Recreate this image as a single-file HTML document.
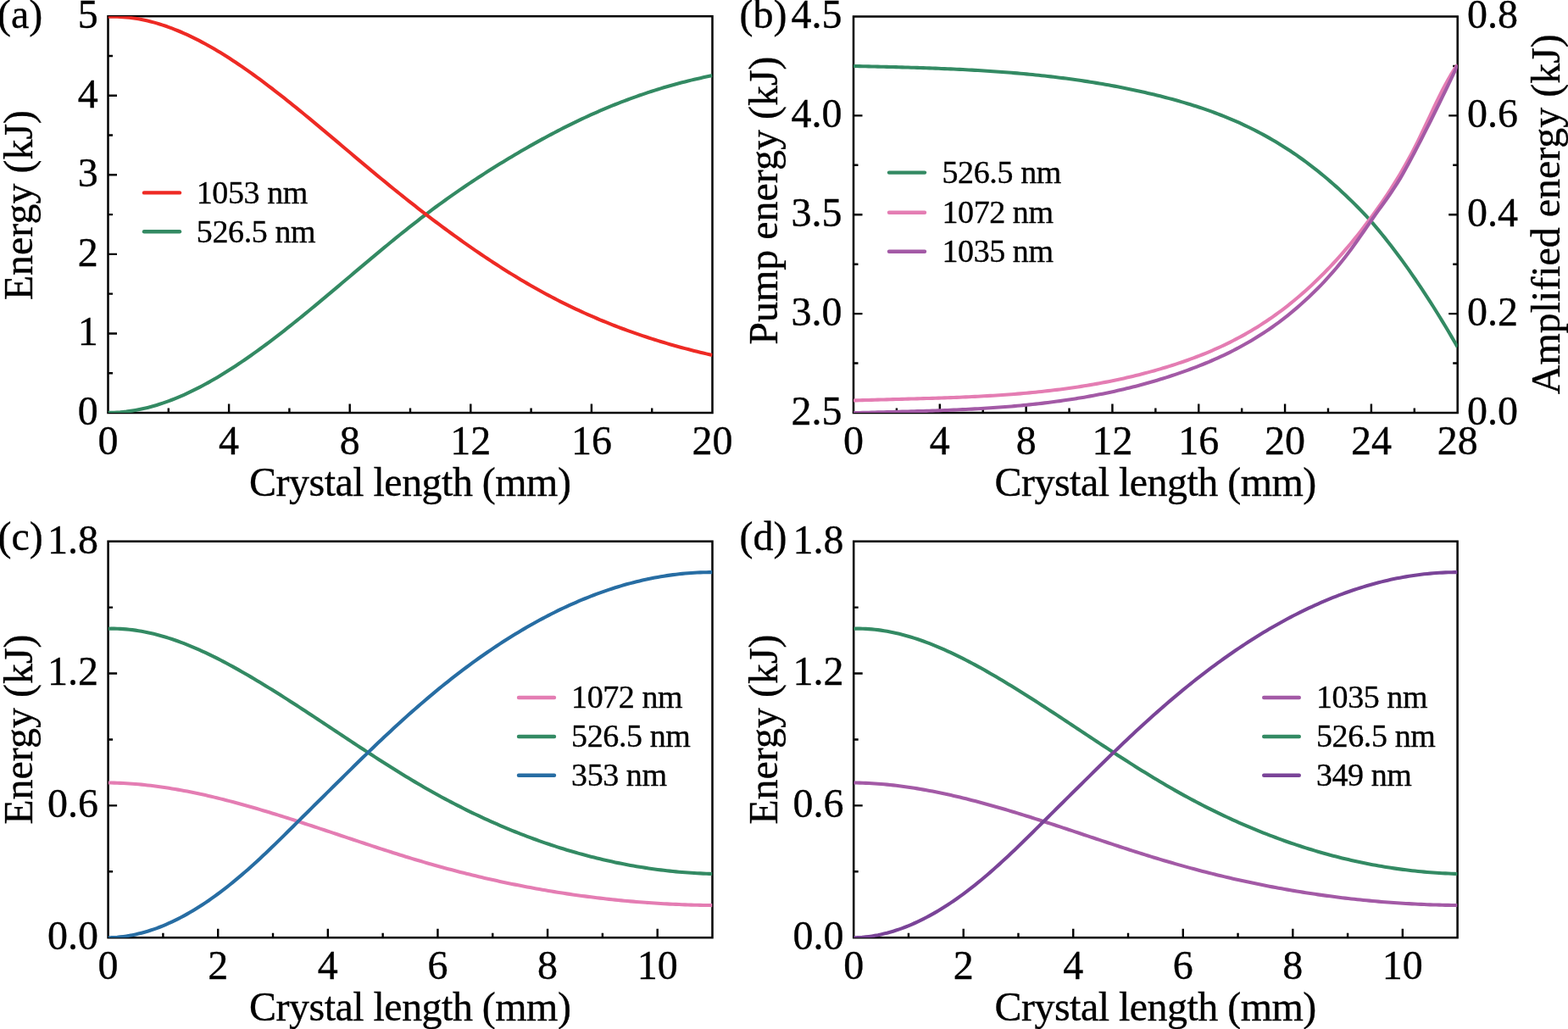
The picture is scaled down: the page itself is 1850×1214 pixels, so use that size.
<!DOCTYPE html>
<html><head><meta charset="utf-8"><title>Crystal length energy plots</title>
<style>html,body{margin:0;padding:0;background:#fff;overflow:hidden}svg{display:block}text{font-family:"Liberation Serif","Times New Roman",serif;fill:#000;stroke:#000;stroke-width:0.35px}</style>
</head><body>
<svg width="1850" height="1214" viewBox="0 0 1850 1214">
<rect width="1850" height="1214" fill="#fff"/>
<path d="M270.10,487.00V476.50 M412.70,487.00V476.50 M555.30,487.00V476.50 M697.90,487.00V476.50 M198.80,487.00V481.50 M341.40,487.00V481.50 M484.00,487.00V481.50 M626.60,487.00V481.50 M769.20,487.00V481.50 M127.50,393.44H138.00 M127.50,299.88H138.00 M127.50,206.32H138.00 M127.50,112.76H138.00 M127.50,440.22H133.00 M127.50,346.66H133.00 M127.50,253.10H133.00 M127.50,159.54H133.00 M127.50,65.98H133.00" stroke="#000" stroke-width="2.4" fill="none"/>
<text x="127.50" y="535.50" font-size="48" text-anchor="middle">0</text>
<text x="270.10" y="535.50" font-size="48" text-anchor="middle">4</text>
<text x="412.70" y="535.50" font-size="48" text-anchor="middle">8</text>
<text x="555.30" y="535.50" font-size="48" text-anchor="middle">12</text>
<text x="697.90" y="535.50" font-size="48" text-anchor="middle">16</text>
<text x="840.50" y="535.50" font-size="48" text-anchor="middle">20</text>
<text x="115.80" y="500.90" font-size="48" text-anchor="end">0</text>
<text x="115.80" y="407.34" font-size="48" text-anchor="end">1</text>
<text x="115.80" y="313.78" font-size="48" text-anchor="end">2</text>
<text x="115.80" y="220.22" font-size="48" text-anchor="end">3</text>
<text x="115.80" y="126.66" font-size="48" text-anchor="end">4</text>
<text x="115.80" y="33.10" font-size="48" text-anchor="end">5</text>
<rect x="127.50" y="19.20" width="713.00" height="467.80" fill="none" stroke="#000" stroke-width="2.5"/>
<clipPath id="c1"><rect x="127.50" y="19.20" width="713.00" height="467.80"/></clipPath>
<path d="M127.50,486.85 L131.08,486.83 L134.67,486.73 L138.25,486.55 L141.83,486.31 L145.41,485.99 L149.00,485.60 L152.58,485.13 L156.16,484.60 L159.75,484.00 L163.33,483.33 L166.91,482.59 L170.49,481.79 L174.08,480.92 L177.66,479.98 L181.24,478.99 L184.83,477.93 L188.41,476.81 L191.99,475.63 L195.58,474.39 L199.16,473.09 L202.74,471.73 L206.32,470.32 L209.91,468.85 L213.49,467.33 L217.07,465.76 L220.66,464.13 L224.24,462.45 L227.82,460.72 L231.40,458.94 L234.99,457.11 L238.57,455.23 L242.15,453.31 L245.74,451.34 L249.32,449.32 L252.90,447.26 L256.48,445.16 L260.07,443.02 L263.65,440.83 L267.23,438.61 L270.82,436.35 L274.40,434.05 L277.98,431.71 L281.57,429.33 L285.15,426.92 L288.73,424.48 L292.31,422.00 L295.90,419.49 L299.48,416.95 L303.06,414.38 L306.65,411.78 L310.23,409.15 L313.81,406.50 L317.39,403.81 L320.98,401.11 L324.56,398.38 L328.14,395.62 L331.73,392.84 L335.31,390.04 L338.89,387.22 L342.47,384.38 L346.06,381.52 L349.64,378.65 L353.22,375.75 L356.81,372.85 L360.39,369.92 L363.97,366.99 L367.56,364.04 L371.14,361.07 L374.72,358.10 L378.30,355.12 L381.89,352.13 L385.47,349.13 L389.05,346.12 L392.64,343.11 L396.22,340.09 L399.80,337.07 L403.38,334.05 L406.97,331.02 L410.55,327.99 L414.13,324.96 L417.72,321.94 L421.30,318.91 L424.88,315.89 L428.46,312.87 L432.05,309.85 L435.63,306.84 L439.21,303.84 L442.80,300.85 L446.38,297.86 L449.96,294.88 L453.55,291.92 L457.13,288.96 L460.71,286.02 L464.29,283.09 L467.88,280.18 L471.46,277.28 L475.04,274.40 L478.63,271.53 L482.21,268.68 L485.79,265.85 L489.37,263.05 L492.96,260.26 L496.54,257.49 L500.12,254.75 L503.71,252.04 L507.29,249.34 L510.87,246.67 L514.45,244.02 L518.04,241.40 L521.62,238.80 L525.20,236.22 L528.79,233.66 L532.37,231.13 L535.95,228.62 L539.54,226.12 L543.12,223.65 L546.70,221.20 L550.28,218.78 L553.87,216.37 L557.45,213.98 L561.03,211.61 L564.62,209.26 L568.20,206.93 L571.78,204.62 L575.36,202.33 L578.95,200.06 L582.53,197.80 L586.11,195.57 L589.70,193.35 L593.28,191.15 L596.86,188.97 L600.44,186.80 L604.03,184.65 L607.61,182.52 L611.19,180.40 L614.78,178.31 L618.36,176.23 L621.94,174.16 L625.53,172.12 L629.11,170.10 L632.69,168.09 L636.27,166.10 L639.86,164.14 L643.44,162.19 L647.02,160.26 L650.61,158.35 L654.19,156.46 L657.77,154.59 L661.35,152.75 L664.94,150.92 L668.52,149.11 L672.10,147.33 L675.69,145.57 L679.27,143.83 L682.85,142.11 L686.43,140.41 L690.02,138.74 L693.60,137.08 L697.18,135.46 L700.77,133.85 L704.35,132.27 L707.93,130.71 L711.52,129.17 L715.10,127.66 L718.68,126.17 L722.26,124.71 L725.85,123.26 L729.43,121.84 L733.01,120.45 L736.60,119.07 L740.18,117.72 L743.76,116.40 L747.34,115.09 L750.93,113.81 L754.51,112.55 L758.09,111.32 L761.68,110.10 L765.26,108.91 L768.84,107.75 L772.42,106.60 L776.01,105.48 L779.59,104.38 L783.17,103.30 L786.76,102.25 L790.34,101.22 L793.92,100.21 L797.51,99.22 L801.09,98.26 L804.67,97.32 L808.25,96.40 L811.84,95.50 L815.42,94.62 L819.00,93.77 L822.59,92.94 L826.17,92.13 L829.75,91.35 L833.33,90.58 L836.92,89.84 L840.50,89.12" stroke="#338A63" stroke-width="4.1" fill="none" stroke-linejoin="round" stroke-linecap="butt" clip-path="url(#c1)"/>
<path d="M127.50,19.77 L131.08,19.67 L134.67,19.65 L138.25,19.71 L141.83,19.86 L145.41,20.08 L149.00,20.37 L152.58,20.75 L156.16,21.20 L159.75,21.72 L163.33,22.32 L166.91,22.98 L170.49,23.72 L174.08,24.53 L177.66,25.41 L181.24,26.36 L184.83,27.37 L188.41,28.45 L191.99,29.59 L195.58,30.80 L199.16,32.07 L202.74,33.40 L206.32,34.79 L209.91,36.23 L213.49,37.74 L217.07,39.30 L220.66,40.92 L224.24,42.60 L227.82,44.33 L231.40,46.11 L234.99,47.94 L238.57,49.82 L242.15,51.75 L245.74,53.73 L249.32,55.76 L252.90,57.83 L256.48,59.95 L260.07,62.11 L263.65,64.31 L267.23,66.56 L270.82,68.84 L274.40,71.17 L277.98,73.53 L281.57,75.94 L285.15,78.37 L288.73,80.85 L292.31,83.35 L295.90,85.89 L299.48,88.47 L303.06,91.07 L306.65,93.70 L310.23,96.36 L313.81,99.05 L317.39,101.76 L320.98,104.50 L324.56,107.26 L328.14,110.05 L331.73,112.86 L335.31,115.69 L338.89,118.53 L342.47,121.40 L346.06,124.28 L349.64,127.18 L353.22,130.10 L356.81,133.03 L360.39,135.97 L363.97,138.93 L367.56,141.89 L371.14,144.87 L374.72,147.85 L378.30,150.85 L381.89,153.85 L385.47,156.86 L389.05,159.87 L392.64,162.89 L396.22,165.91 L399.80,168.93 L403.38,171.96 L406.97,174.99 L410.55,178.01 L414.13,181.04 L417.72,184.06 L421.30,187.08 L424.88,190.10 L428.46,193.11 L432.05,196.11 L435.63,199.11 L439.21,202.10 L442.80,205.08 L446.38,208.05 L449.96,211.00 L453.55,213.95 L457.13,216.89 L460.71,219.81 L464.29,222.72 L467.88,225.62 L471.46,228.50 L475.04,231.37 L478.63,234.23 L482.21,237.07 L485.79,239.90 L489.37,242.72 L492.96,245.52 L496.54,248.30 L500.12,251.07 L503.71,253.83 L507.29,256.56 L510.87,259.29 L514.45,261.99 L518.04,264.68 L521.62,267.36 L525.20,270.01 L528.79,272.65 L532.37,275.27 L535.95,277.88 L539.54,280.46 L543.12,283.03 L546.70,285.58 L550.28,288.11 L553.87,290.62 L557.45,293.11 L561.03,295.58 L564.62,298.03 L568.20,300.47 L571.78,302.88 L575.36,305.27 L578.95,307.64 L582.53,309.99 L586.11,312.32 L589.70,314.62 L593.28,316.91 L596.86,319.17 L600.44,321.41 L604.03,323.63 L607.61,325.82 L611.19,327.99 L614.78,330.14 L618.36,332.27 L621.94,334.37 L625.53,336.44 L629.11,338.49 L632.69,340.52 L636.27,342.52 L639.86,344.50 L643.44,346.45 L647.02,348.38 L650.61,350.28 L654.19,352.15 L657.77,354.00 L661.35,355.82 L664.94,357.62 L668.52,359.39 L672.10,361.14 L675.69,362.86 L679.27,364.55 L682.85,366.23 L686.43,367.88 L690.02,369.50 L693.60,371.10 L697.18,372.68 L700.77,374.23 L704.35,375.76 L707.93,377.27 L711.52,378.76 L715.10,380.22 L718.68,381.66 L722.26,383.08 L725.85,384.48 L729.43,385.85 L733.01,387.21 L736.60,388.54 L740.18,389.85 L743.76,391.14 L747.34,392.42 L750.93,393.67 L754.51,394.90 L758.09,396.11 L761.68,397.30 L765.26,398.48 L768.84,399.63 L772.42,400.76 L776.01,401.88 L779.59,402.98 L783.17,404.06 L786.76,405.12 L790.34,406.16 L793.92,407.19 L797.51,408.20 L801.09,409.19 L804.67,410.16 L808.25,411.12 L811.84,412.06 L815.42,412.99 L819.00,413.90 L822.59,414.79 L826.17,415.67 L829.75,416.53 L833.33,417.38 L836.92,418.21 L840.50,419.03" stroke="#EE2A24" stroke-width="4.1" fill="none" stroke-linejoin="round" stroke-linecap="butt" clip-path="url(#c1)"/>
<path d="M170.00,227.40H212.00" stroke="#EE2A24" stroke-width="4.4" stroke-linecap="round"/>
<text x="231.80" y="239.70" font-size="38" text-anchor="start"  textLength="131.51" lengthAdjust="spacing">1053 nm</text>
<path d="M170.00,273.30H212.00" stroke="#338A63" stroke-width="4.4" stroke-linecap="round"/>
<text x="231.80" y="285.60" font-size="38" text-anchor="start"  textLength="140.83" lengthAdjust="spacing">526.5 nm</text>
<path d="M1108.81,487.00V476.50 M1210.63,487.00V476.50 M1312.44,487.00V476.50 M1414.26,487.00V476.50 M1516.07,487.00V476.50 M1617.89,487.00V476.50 M1057.91,487.00V481.50 M1159.72,487.00V481.50 M1261.54,487.00V481.50 M1363.35,487.00V481.50 M1465.16,487.00V481.50 M1566.98,487.00V481.50 M1668.79,487.00V481.50 M1007.00,370.12H1017.50 M1007.00,253.25H1017.50 M1007.00,136.38H1017.50 M1007.00,428.56H1012.50 M1007.00,311.69H1012.50 M1007.00,194.81H1012.50 M1007.00,77.94H1012.50 M1719.70,370.12H1709.20 M1719.70,253.25H1709.20 M1719.70,136.38H1709.20 M1719.70,428.56H1714.20 M1719.70,311.69H1714.20 M1719.70,194.81H1714.20 M1719.70,77.94H1714.20" stroke="#000" stroke-width="2.4" fill="none"/>
<text x="1007.00" y="535.50" font-size="48" text-anchor="middle">0</text>
<text x="1108.81" y="535.50" font-size="48" text-anchor="middle">4</text>
<text x="1210.63" y="535.50" font-size="48" text-anchor="middle">8</text>
<text x="1312.44" y="535.50" font-size="48" text-anchor="middle">12</text>
<text x="1414.26" y="535.50" font-size="48" text-anchor="middle">16</text>
<text x="1516.07" y="535.50" font-size="48" text-anchor="middle">20</text>
<text x="1617.89" y="535.50" font-size="48" text-anchor="middle">24</text>
<text x="1719.70" y="535.50" font-size="48" text-anchor="middle">28</text>
<text x="993.50" y="500.90" font-size="48" text-anchor="end">2.5</text>
<text x="993.50" y="384.02" font-size="48" text-anchor="end">3.0</text>
<text x="993.50" y="267.15" font-size="48" text-anchor="end">3.5</text>
<text x="993.50" y="150.28" font-size="48" text-anchor="end">4.0</text>
<text x="993.50" y="33.40" font-size="48" text-anchor="end">4.5</text>
<text x="1731.00" y="500.90" font-size="48" text-anchor="start">0.0</text>
<text x="1731.00" y="384.02" font-size="48" text-anchor="start">0.2</text>
<text x="1731.00" y="267.15" font-size="48" text-anchor="start">0.4</text>
<text x="1731.00" y="150.28" font-size="48" text-anchor="start">0.6</text>
<text x="1731.00" y="33.40" font-size="48" text-anchor="start">0.8</text>
<rect x="1007.00" y="19.50" width="712.70" height="467.50" fill="none" stroke="#000" stroke-width="2.5"/>
<clipPath id="c2"><rect x="1007.00" y="19.50" width="712.70" height="467.50"/></clipPath>
<path d="M1007.00,77.94 L1010.58,78.02 L1014.16,78.11 L1017.74,78.19 L1021.33,78.28 L1024.91,78.36 L1028.49,78.45 L1032.07,78.53 L1035.65,78.62 L1039.23,78.71 L1042.81,78.80 L1046.40,78.89 L1049.98,78.98 L1053.56,79.07 L1057.14,79.17 L1060.72,79.27 L1064.30,79.37 L1067.88,79.47 L1071.47,79.57 L1075.05,79.68 L1078.63,79.79 L1082.21,79.90 L1085.79,80.02 L1089.37,80.14 L1092.95,80.26 L1096.54,80.39 L1100.12,80.52 L1103.70,80.65 L1107.28,80.79 L1110.86,80.94 L1114.44,81.08 L1118.02,81.24 L1121.61,81.39 L1125.19,81.56 L1128.77,81.72 L1132.35,81.90 L1135.93,82.07 L1139.51,82.26 L1143.09,82.45 L1146.67,82.64 L1150.26,82.84 L1153.84,83.05 L1157.42,83.27 L1161.00,83.49 L1164.58,83.72 L1168.16,83.95 L1171.74,84.19 L1175.33,84.44 L1178.91,84.70 L1182.49,84.96 L1186.07,85.24 L1189.65,85.52 L1193.23,85.80 L1196.81,86.10 L1200.40,86.41 L1203.98,86.72 L1207.56,87.04 L1211.14,87.38 L1214.72,87.72 L1218.30,88.07 L1221.88,88.43 L1225.47,88.80 L1229.05,89.17 L1232.63,89.56 L1236.21,89.96 L1239.79,90.37 L1243.37,90.79 L1246.95,91.22 L1250.54,91.66 L1254.12,92.12 L1257.70,92.58 L1261.28,93.05 L1264.86,93.54 L1268.44,94.04 L1272.02,94.55 L1275.61,95.07 L1279.19,95.60 L1282.77,96.15 L1286.35,96.71 L1289.93,97.28 L1293.51,97.86 L1297.09,98.46 L1300.68,99.07 L1304.26,99.69 L1307.84,100.33 L1311.42,100.98 L1315.00,101.64 L1318.58,102.32 L1322.16,103.01 L1325.75,103.72 L1329.33,104.44 L1332.91,105.17 L1336.49,105.92 L1340.07,106.69 L1343.65,107.47 L1347.23,108.26 L1350.82,109.07 L1354.40,109.90 L1357.98,110.74 L1361.56,111.60 L1365.14,112.47 L1368.72,113.36 L1372.30,114.27 L1375.88,115.19 L1379.47,116.14 L1383.05,117.10 L1386.63,118.08 L1390.21,119.08 L1393.79,120.10 L1397.37,121.15 L1400.95,122.21 L1404.54,123.31 L1408.12,124.42 L1411.70,125.56 L1415.28,126.73 L1418.86,127.93 L1422.44,129.15 L1426.02,130.41 L1429.61,131.69 L1433.19,133.00 L1436.77,134.35 L1440.35,135.73 L1443.93,137.14 L1447.51,138.58 L1451.09,140.06 L1454.68,141.58 L1458.26,143.13 L1461.84,144.72 L1465.42,146.35 L1469.00,148.02 L1472.58,149.73 L1476.16,151.48 L1479.75,153.27 L1483.33,155.10 L1486.91,156.98 L1490.49,158.90 L1494.07,160.86 L1497.65,162.87 L1501.23,164.93 L1504.82,167.04 L1508.40,169.19 L1511.98,171.40 L1515.56,173.65 L1519.14,175.96 L1522.72,178.31 L1526.30,180.72 L1529.89,183.18 L1533.47,185.70 L1537.05,188.26 L1540.63,190.88 L1544.21,193.55 L1547.79,196.28 L1551.37,199.07 L1554.96,201.90 L1558.54,204.80 L1562.12,207.75 L1565.70,210.75 L1569.28,213.82 L1572.86,216.94 L1576.44,220.12 L1580.03,223.35 L1583.61,226.65 L1587.19,230.00 L1590.77,233.41 L1594.35,236.88 L1597.93,240.41 L1601.51,243.99 L1605.09,247.64 L1608.68,251.37 L1612.26,255.19 L1615.84,259.13 L1619.42,263.18 L1623.00,267.34 L1626.58,271.61 L1630.16,275.96 L1633.75,280.40 L1637.33,284.91 L1640.91,289.50 L1644.49,294.17 L1648.07,298.92 L1651.65,303.74 L1655.23,308.64 L1658.82,313.62 L1662.40,318.67 L1665.98,323.80 L1669.56,329.01 L1673.14,334.28 L1676.72,339.64 L1680.30,345.06 L1683.89,350.56 L1687.47,356.13 L1691.05,361.77 L1694.63,367.48 L1698.21,373.27 L1701.79,379.12 L1705.37,385.04 L1708.96,391.04 L1712.54,397.10 L1716.12,403.23 L1719.70,409.43" stroke="#338A63" stroke-width="4.1" fill="none" stroke-linejoin="round" stroke-linecap="butt" clip-path="url(#c2)"/>
<path d="M1007.00,472.53 L1010.58,472.41 L1014.16,472.29 L1017.74,472.17 L1021.33,472.06 L1024.91,471.95 L1028.49,471.85 L1032.07,471.74 L1035.65,471.64 L1039.23,471.54 L1042.81,471.44 L1046.40,471.34 L1049.98,471.24 L1053.56,471.15 L1057.14,471.05 L1060.72,470.96 L1064.30,470.86 L1067.88,470.76 L1071.47,470.67 L1075.05,470.57 L1078.63,470.47 L1082.21,470.37 L1085.79,470.27 L1089.37,470.17 L1092.95,470.06 L1096.54,469.95 L1100.12,469.84 L1103.70,469.73 L1107.28,469.61 L1110.86,469.49 L1114.44,469.37 L1118.02,469.24 L1121.61,469.11 L1125.19,468.97 L1128.77,468.83 L1132.35,468.68 L1135.93,468.53 L1139.51,468.38 L1143.09,468.22 L1146.67,468.05 L1150.26,467.87 L1153.84,467.69 L1157.42,467.50 L1161.00,467.31 L1164.58,467.11 L1168.16,466.90 L1171.74,466.68 L1175.33,466.46 L1178.91,466.22 L1182.49,465.98 L1186.07,465.73 L1189.65,465.47 L1193.23,465.20 L1196.81,464.92 L1200.40,464.64 L1203.98,464.34 L1207.56,464.03 L1211.14,463.71 L1214.72,463.38 L1218.30,463.04 L1221.88,462.69 L1225.47,462.32 L1229.05,461.95 L1232.63,461.56 L1236.21,461.16 L1239.79,460.75 L1243.37,460.32 L1246.95,459.88 L1250.54,459.43 L1254.12,458.97 L1257.70,458.49 L1261.28,457.99 L1264.86,457.49 L1268.44,456.96 L1272.02,456.43 L1275.61,455.87 L1279.19,455.31 L1282.77,454.72 L1286.35,454.12 L1289.93,453.51 L1293.51,452.87 L1297.09,452.22 L1300.68,451.56 L1304.26,450.88 L1307.84,450.18 L1311.42,449.46 L1315.00,448.72 L1318.58,447.97 L1322.16,447.19 L1325.75,446.40 L1329.33,445.59 L1332.91,444.76 L1336.49,443.91 L1340.07,443.04 L1343.65,442.16 L1347.23,441.25 L1350.82,440.32 L1354.40,439.37 L1357.98,438.39 L1361.56,437.40 L1365.14,436.39 L1368.72,435.35 L1372.30,434.29 L1375.88,433.21 L1379.47,432.11 L1383.05,430.98 L1386.63,429.83 L1390.21,428.66 L1393.79,427.46 L1397.37,426.23 L1400.95,424.97 L1404.54,423.69 L1408.12,422.38 L1411.70,421.03 L1415.28,419.65 L1418.86,418.24 L1422.44,416.79 L1426.02,415.31 L1429.61,413.79 L1433.19,412.24 L1436.77,410.64 L1440.35,409.00 L1443.93,407.33 L1447.51,405.61 L1451.09,403.85 L1454.68,402.04 L1458.26,400.19 L1461.84,398.30 L1465.42,396.35 L1469.00,394.36 L1472.58,392.32 L1476.16,390.22 L1479.75,388.08 L1483.33,385.88 L1486.91,383.63 L1490.49,381.33 L1494.07,378.96 L1497.65,376.54 L1501.23,374.07 L1504.82,371.53 L1508.40,368.93 L1511.98,366.28 L1515.56,363.56 L1519.14,360.77 L1522.72,357.93 L1526.30,355.02 L1529.89,352.04 L1533.47,349.00 L1537.05,345.89 L1540.63,342.72 L1544.21,339.47 L1547.79,336.16 L1551.37,332.78 L1554.96,329.33 L1558.54,325.80 L1562.12,322.21 L1565.70,318.54 L1569.28,314.80 L1572.86,310.98 L1576.44,307.09 L1580.03,303.12 L1583.61,299.07 L1587.19,294.95 L1590.77,290.75 L1594.35,286.47 L1597.93,282.11 L1601.51,277.67 L1605.09,273.15 L1608.68,268.55 L1612.26,263.86 L1615.84,259.09 L1619.42,254.23 L1623.00,249.29 L1626.58,244.26 L1630.16,239.14 L1633.75,233.90 L1637.33,228.54 L1640.91,223.06 L1644.49,217.43 L1648.07,211.65 L1651.65,205.71 L1655.23,199.60 L1658.82,193.30 L1662.40,186.81 L1665.98,180.12 L1669.56,173.21 L1673.14,166.08 L1676.72,158.73 L1680.30,151.24 L1683.89,143.66 L1687.47,136.05 L1691.05,128.47 L1694.63,120.98 L1698.21,113.65 L1701.79,106.53 L1705.37,99.69 L1708.96,93.19 L1712.54,87.09 L1716.12,81.45 L1719.70,76.34" stroke="#E47DB3" stroke-width="4.1" fill="none" stroke-linejoin="round" stroke-linecap="butt" clip-path="url(#c2)"/>
<path d="M1007.00,487.19 L1010.58,487.08 L1014.16,486.98 L1017.74,486.88 L1021.33,486.78 L1024.91,486.69 L1028.49,486.59 L1032.07,486.50 L1035.65,486.41 L1039.23,486.31 L1042.81,486.22 L1046.40,486.13 L1049.98,486.04 L1053.56,485.95 L1057.14,485.85 L1060.72,485.76 L1064.30,485.66 L1067.88,485.57 L1071.47,485.47 L1075.05,485.37 L1078.63,485.27 L1082.21,485.16 L1085.79,485.06 L1089.37,484.95 L1092.95,484.83 L1096.54,484.72 L1100.12,484.60 L1103.70,484.47 L1107.28,484.34 L1110.86,484.21 L1114.44,484.07 L1118.02,483.93 L1121.61,483.79 L1125.19,483.64 L1128.77,483.48 L1132.35,483.31 L1135.93,483.15 L1139.51,482.97 L1143.09,482.79 L1146.67,482.60 L1150.26,482.40 L1153.84,482.20 L1157.42,481.99 L1161.00,481.77 L1164.58,481.55 L1168.16,481.31 L1171.74,481.07 L1175.33,480.82 L1178.91,480.56 L1182.49,480.29 L1186.07,480.01 L1189.65,479.72 L1193.23,479.42 L1196.81,479.11 L1200.40,478.79 L1203.98,478.46 L1207.56,478.12 L1211.14,477.77 L1214.72,477.41 L1218.30,477.03 L1221.88,476.65 L1225.47,476.25 L1229.05,475.84 L1232.63,475.41 L1236.21,474.98 L1239.79,474.53 L1243.37,474.07 L1246.95,473.59 L1250.54,473.10 L1254.12,472.59 L1257.70,472.08 L1261.28,471.54 L1264.86,470.99 L1268.44,470.43 L1272.02,469.85 L1275.61,469.26 L1279.19,468.65 L1282.77,468.03 L1286.35,467.38 L1289.93,466.73 L1293.51,466.05 L1297.09,465.36 L1300.68,464.65 L1304.26,463.92 L1307.84,463.18 L1311.42,462.42 L1315.00,461.64 L1318.58,460.84 L1322.16,460.02 L1325.75,459.18 L1329.33,458.33 L1332.91,457.45 L1336.49,456.56 L1340.07,455.64 L1343.65,454.71 L1347.23,453.75 L1350.82,452.78 L1354.40,451.78 L1357.98,450.76 L1361.56,449.72 L1365.14,448.66 L1368.72,447.58 L1372.30,446.48 L1375.88,445.35 L1379.47,444.20 L1383.05,443.03 L1386.63,441.83 L1390.21,440.61 L1393.79,439.37 L1397.37,438.10 L1400.95,436.81 L1404.54,435.50 L1408.12,434.16 L1411.70,432.79 L1415.28,431.39 L1418.86,429.97 L1422.44,428.51 L1426.02,427.02 L1429.61,425.49 L1433.19,423.93 L1436.77,422.33 L1440.35,420.70 L1443.93,419.02 L1447.51,417.30 L1451.09,415.55 L1454.68,413.74 L1458.26,411.90 L1461.84,410.00 L1465.42,408.06 L1469.00,406.07 L1472.58,404.03 L1476.16,401.93 L1479.75,399.79 L1483.33,397.58 L1486.91,395.33 L1490.49,393.01 L1494.07,390.64 L1497.65,388.21 L1501.23,385.71 L1504.82,383.15 L1508.40,380.53 L1511.98,377.85 L1515.56,375.09 L1519.14,372.27 L1522.72,369.38 L1526.30,366.41 L1529.89,363.38 L1533.47,360.27 L1537.05,357.09 L1540.63,353.83 L1544.21,350.49 L1547.79,347.07 L1551.37,343.58 L1554.96,339.99 L1558.54,336.33 L1562.12,332.56 L1565.70,328.70 L1569.28,324.74 L1572.86,320.66 L1576.44,316.48 L1580.03,312.17 L1583.61,307.74 L1587.19,303.18 L1590.77,298.49 L1594.35,293.67 L1597.93,288.73 L1601.51,283.71 L1605.09,278.62 L1608.68,273.48 L1612.26,268.33 L1615.84,263.17 L1619.42,258.03 L1623.00,252.94 L1626.58,247.92 L1630.16,242.95 L1633.75,237.97 L1637.33,232.94 L1640.91,227.79 L1644.49,222.47 L1648.07,216.93 L1651.65,211.10 L1655.23,204.94 L1658.82,198.51 L1662.40,191.92 L1665.98,185.25 L1669.56,178.48 L1673.14,171.63 L1676.72,164.70 L1680.30,157.69 L1683.89,150.62 L1687.47,143.48 L1691.05,136.28 L1694.63,129.03 L1698.21,121.74 L1701.79,114.40 L1705.37,107.02 L1708.96,99.61 L1712.54,92.18 L1716.12,84.72 L1719.70,77.24" stroke="#A35AA6" stroke-width="4.1" fill="none" stroke-linejoin="round" stroke-linecap="butt" clip-path="url(#c2)"/>
<path d="M1049.00,203.60H1091.00" stroke="#338A63" stroke-width="4.4" stroke-linecap="round"/>
<text x="1111.50" y="215.90" font-size="38" text-anchor="start"  textLength="140.83" lengthAdjust="spacing">526.5 nm</text>
<path d="M1049.00,250.70H1091.00" stroke="#E47DB3" stroke-width="4.4" stroke-linecap="round"/>
<text x="1111.50" y="263.00" font-size="38" text-anchor="start"  textLength="131.51" lengthAdjust="spacing">1072 nm</text>
<path d="M1049.00,296.80H1091.00" stroke="#A35AA6" stroke-width="4.4" stroke-linecap="round"/>
<text x="1111.50" y="309.10" font-size="38" text-anchor="start"  textLength="131.51" lengthAdjust="spacing">1035 nm</text>
<path d="M257.22,1106.20V1095.70 M386.84,1106.20V1095.70 M516.45,1106.20V1095.70 M646.07,1106.20V1095.70 M775.69,1106.20V1095.70 M192.41,1106.20V1100.70 M322.03,1106.20V1100.70 M451.65,1106.20V1100.70 M581.26,1106.20V1100.70 M710.88,1106.20V1100.70 M127.60,950.37H138.10 M127.60,794.53H138.10 M127.60,1028.28H133.10 M127.60,872.45H133.10 M127.60,716.62H133.10" stroke="#000" stroke-width="2.4" fill="none"/>
<text x="127.60" y="1154.70" font-size="48" text-anchor="middle">0</text>
<text x="257.22" y="1154.70" font-size="48" text-anchor="middle">2</text>
<text x="386.84" y="1154.70" font-size="48" text-anchor="middle">4</text>
<text x="516.45" y="1154.70" font-size="48" text-anchor="middle">6</text>
<text x="646.07" y="1154.70" font-size="48" text-anchor="middle">8</text>
<text x="775.69" y="1154.70" font-size="48" text-anchor="middle">10</text>
<text x="116.00" y="1120.10" font-size="48" text-anchor="end">0.0</text>
<text x="116.00" y="964.27" font-size="48" text-anchor="end">0.6</text>
<text x="116.00" y="808.43" font-size="48" text-anchor="end">1.2</text>
<text x="116.00" y="652.60" font-size="48" text-anchor="end">1.8</text>
<rect x="127.60" y="638.70" width="712.90" height="467.50" fill="none" stroke="#000" stroke-width="2.5"/>
<clipPath id="c3"><rect x="127.60" y="638.70" width="712.90" height="467.50"/></clipPath>
<path d="M127.60,741.73 L131.18,741.66 L134.76,741.66 L138.35,741.73 L141.93,741.88 L145.51,742.09 L149.09,742.37 L152.68,742.72 L156.26,743.14 L159.84,743.62 L163.42,744.17 L167.01,744.77 L170.59,745.44 L174.17,746.17 L177.75,746.96 L181.34,747.80 L184.92,748.71 L188.50,749.67 L192.08,750.68 L195.67,751.75 L199.25,752.87 L202.83,754.04 L206.41,755.26 L210.00,756.52 L213.58,757.84 L217.16,759.20 L220.74,760.61 L224.33,762.06 L227.91,763.56 L231.49,765.10 L235.07,766.68 L238.65,768.30 L242.24,769.95 L245.82,771.65 L249.40,773.38 L252.98,775.14 L256.57,776.94 L260.15,778.77 L263.73,780.64 L267.31,782.53 L270.90,784.45 L274.48,786.41 L278.06,788.39 L281.64,790.39 L285.23,792.42 L288.81,794.47 L292.39,796.55 L295.97,798.64 L299.56,800.76 L303.14,802.90 L306.72,805.05 L310.30,807.22 L313.89,809.41 L317.47,811.62 L321.05,813.84 L324.63,816.07 L328.22,818.32 L331.80,820.58 L335.38,822.86 L338.96,825.14 L342.54,827.44 L346.13,829.75 L349.71,832.07 L353.29,834.39 L356.87,836.73 L360.46,839.07 L364.04,841.42 L367.62,843.77 L371.20,846.14 L374.79,848.50 L378.37,850.87 L381.95,853.24 L385.53,855.62 L389.12,857.99 L392.70,860.37 L396.28,862.75 L399.86,865.13 L403.45,867.50 L407.03,869.88 L410.61,872.25 L414.19,874.62 L417.78,876.99 L421.36,879.35 L424.94,881.70 L428.52,884.05 L432.11,886.39 L435.69,888.73 L439.27,891.06 L442.85,893.37 L446.43,895.68 L450.02,897.98 L453.60,900.27 L457.18,902.54 L460.76,904.80 L464.35,907.05 L467.93,909.29 L471.51,911.51 L475.09,913.71 L478.68,915.90 L482.26,918.08 L485.84,920.23 L489.42,922.37 L493.01,924.48 L496.59,926.58 L500.17,928.66 L503.75,930.72 L507.34,932.75 L510.92,934.77 L514.50,936.76 L518.08,938.73 L521.67,940.68 L525.25,942.62 L528.83,944.52 L532.41,946.41 L535.99,948.28 L539.58,950.13 L543.16,951.95 L546.74,953.76 L550.32,955.54 L553.91,957.30 L557.49,959.05 L561.07,960.77 L564.65,962.47 L568.24,964.15 L571.82,965.80 L575.40,967.44 L578.98,969.06 L582.57,970.65 L586.15,972.23 L589.73,973.78 L593.31,975.31 L596.90,976.82 L600.48,978.31 L604.06,979.78 L607.64,981.23 L611.23,982.66 L614.81,984.07 L618.39,985.45 L621.97,986.82 L625.56,988.16 L629.14,989.49 L632.72,990.79 L636.30,992.07 L639.88,993.34 L643.47,994.58 L647.05,995.80 L650.63,996.99 L654.21,998.17 L657.80,999.33 L661.38,1000.47 L664.96,1001.58 L668.54,1002.68 L672.13,1003.75 L675.71,1004.81 L679.29,1005.84 L682.87,1006.85 L686.46,1007.84 L690.04,1008.81 L693.62,1009.77 L697.20,1010.69 L700.79,1011.60 L704.37,1012.49 L707.95,1013.36 L711.53,1014.21 L715.12,1015.03 L718.70,1015.84 L722.28,1016.62 L725.86,1017.39 L729.45,1018.13 L733.03,1018.85 L736.61,1019.55 L740.19,1020.24 L743.77,1020.90 L747.36,1021.54 L750.94,1022.16 L754.52,1022.76 L758.10,1023.33 L761.69,1023.89 L765.27,1024.43 L768.85,1024.95 L772.43,1025.44 L776.02,1025.92 L779.60,1026.37 L783.18,1026.81 L786.76,1027.22 L790.35,1027.61 L793.93,1027.99 L797.51,1028.34 L801.09,1028.67 L804.68,1028.98 L808.26,1029.27 L811.84,1029.54 L815.42,1029.79 L819.01,1030.02 L822.59,1030.23 L826.17,1030.42 L829.75,1030.59 L833.34,1030.74 L836.92,1030.86 L840.50,1030.97" stroke="#338A63" stroke-width="4.1" fill="none" stroke-linejoin="round" stroke-linecap="butt" clip-path="url(#c3)"/>
<path d="M127.60,923.46 L131.18,923.51 L134.76,923.60 L138.35,923.72 L141.93,923.86 L145.51,924.04 L149.09,924.24 L152.68,924.47 L156.26,924.73 L159.84,925.01 L163.42,925.32 L167.01,925.66 L170.59,926.03 L174.17,926.42 L177.75,926.83 L181.34,927.27 L184.92,927.73 L188.50,928.22 L192.08,928.73 L195.67,929.26 L199.25,929.82 L202.83,930.40 L206.41,931.00 L210.00,931.62 L213.58,932.26 L217.16,932.93 L220.74,933.61 L224.33,934.32 L227.91,935.04 L231.49,935.78 L235.07,936.55 L238.65,937.33 L242.24,938.12 L245.82,938.94 L249.40,939.77 L252.98,940.62 L256.57,941.49 L260.15,942.37 L263.73,943.27 L267.31,944.18 L270.90,945.11 L274.48,946.05 L278.06,947.00 L281.64,947.97 L285.23,948.96 L288.81,949.95 L292.39,950.96 L295.97,951.98 L299.56,953.01 L303.14,954.05 L306.72,955.11 L310.30,956.17 L313.89,957.24 L317.47,958.33 L321.05,959.42 L324.63,960.52 L328.22,961.63 L331.80,962.75 L335.38,963.88 L338.96,965.01 L342.54,966.15 L346.13,967.30 L349.71,968.45 L353.29,969.61 L356.87,970.77 L360.46,971.94 L364.04,973.11 L367.62,974.29 L371.20,975.47 L374.79,976.66 L378.37,977.84 L381.95,979.03 L385.53,980.22 L389.12,981.42 L392.70,982.61 L396.28,983.81 L399.86,985.01 L403.45,986.20 L407.03,987.40 L410.61,988.59 L414.19,989.79 L417.78,990.98 L421.36,992.17 L424.94,993.36 L428.52,994.55 L432.11,995.73 L435.69,996.91 L439.27,998.09 L442.85,999.26 L446.43,1000.43 L450.02,1001.59 L453.60,1002.75 L457.18,1003.90 L460.76,1005.05 L464.35,1006.19 L467.93,1007.32 L471.51,1008.44 L475.09,1009.56 L478.68,1010.67 L482.26,1011.77 L485.84,1012.86 L489.42,1013.94 L493.01,1015.01 L496.59,1016.08 L500.17,1017.13 L503.75,1018.17 L507.34,1019.20 L510.92,1020.22 L514.50,1021.22 L518.08,1022.22 L521.67,1023.21 L525.25,1024.18 L528.83,1025.15 L532.41,1026.10 L535.99,1027.04 L539.58,1027.98 L543.16,1028.90 L546.74,1029.81 L550.32,1030.71 L553.91,1031.60 L557.49,1032.47 L561.07,1033.34 L564.65,1034.20 L568.24,1035.04 L571.82,1035.88 L575.40,1036.70 L578.98,1037.51 L582.57,1038.32 L586.15,1039.11 L589.73,1039.89 L593.31,1040.66 L596.90,1041.42 L600.48,1042.17 L604.06,1042.90 L607.64,1043.63 L611.23,1044.35 L614.81,1045.05 L618.39,1045.75 L621.97,1046.43 L625.56,1047.10 L629.14,1047.77 L632.72,1048.42 L636.30,1049.06 L639.88,1049.69 L643.47,1050.31 L647.05,1050.92 L650.63,1051.52 L654.21,1052.11 L657.80,1052.68 L661.38,1053.25 L664.96,1053.80 L668.54,1054.35 L672.13,1054.88 L675.71,1055.41 L679.29,1055.92 L682.87,1056.42 L686.46,1056.92 L690.04,1057.40 L693.62,1057.87 L697.20,1058.33 L700.79,1058.78 L704.37,1059.22 L707.95,1059.64 L711.53,1060.06 L715.12,1060.47 L718.70,1060.86 L722.28,1061.25 L725.86,1061.63 L729.45,1061.99 L733.03,1062.34 L736.61,1062.69 L740.19,1063.02 L743.77,1063.34 L747.36,1063.66 L750.94,1063.96 L754.52,1064.25 L758.10,1064.53 L761.69,1064.80 L765.27,1065.06 L768.85,1065.31 L772.43,1065.54 L776.02,1065.77 L779.60,1065.99 L783.18,1066.20 L786.76,1066.39 L790.35,1066.58 L793.93,1066.75 L797.51,1066.92 L801.09,1067.07 L804.68,1067.22 L808.26,1067.35 L811.84,1067.47 L815.42,1067.58 L819.01,1067.69 L822.59,1067.78 L826.17,1067.86 L829.75,1067.93 L833.34,1067.99 L836.92,1068.04 L840.50,1068.08" stroke="#E47DB3" stroke-width="4.1" fill="none" stroke-linejoin="round" stroke-linecap="butt" clip-path="url(#c3)"/>
<path d="M127.60,1106.20 L131.18,1106.12 L134.76,1105.94 L138.35,1105.69 L141.93,1105.35 L145.51,1104.93 L149.09,1104.43 L152.68,1103.85 L156.26,1103.18 L159.84,1102.44 L163.42,1101.62 L167.01,1100.72 L170.59,1099.74 L174.17,1098.69 L177.75,1097.56 L181.34,1096.35 L184.92,1095.08 L188.50,1093.72 L192.08,1092.30 L195.67,1090.80 L199.25,1089.23 L202.83,1087.59 L206.41,1085.88 L210.00,1084.11 L213.58,1082.26 L217.16,1080.34 L220.74,1078.36 L224.33,1076.31 L227.91,1074.20 L231.49,1072.02 L235.07,1069.78 L238.65,1067.47 L242.24,1065.11 L245.82,1062.68 L249.40,1060.19 L252.98,1057.63 L256.57,1055.02 L260.15,1052.35 L263.73,1049.63 L267.31,1046.85 L270.90,1044.01 L274.48,1041.12 L278.06,1038.18 L281.64,1035.19 L285.23,1032.15 L288.81,1029.06 L292.39,1025.92 L295.97,1022.73 L299.56,1019.51 L303.14,1016.23 L306.72,1012.92 L310.30,1009.57 L313.89,1006.19 L317.47,1002.77 L321.05,999.33 L324.63,995.86 L328.22,992.37 L331.80,988.86 L335.38,985.34 L338.96,981.80 L342.54,978.25 L346.13,974.70 L349.71,971.15 L353.29,967.59 L356.87,964.04 L360.46,960.48 L364.04,956.93 L367.62,953.38 L371.20,949.83 L374.79,946.28 L378.37,942.73 L381.95,939.18 L385.53,935.64 L389.12,932.09 L392.70,928.55 L396.28,925.01 L399.86,921.47 L403.45,917.93 L407.03,914.40 L410.61,910.87 L414.19,907.34 L417.78,903.83 L421.36,900.32 L424.94,896.82 L428.52,893.33 L432.11,889.85 L435.69,886.39 L439.27,882.94 L442.85,879.51 L446.43,876.10 L450.02,872.70 L453.60,869.32 L457.18,865.97 L460.76,862.63 L464.35,859.32 L467.93,856.03 L471.51,852.76 L475.09,849.51 L478.68,846.28 L482.26,843.08 L485.84,839.90 L489.42,836.75 L493.01,833.62 L496.59,830.52 L500.17,827.44 L503.75,824.39 L507.34,821.36 L510.92,818.36 L514.50,815.39 L518.08,812.45 L521.67,809.53 L525.25,806.65 L528.83,803.79 L532.41,800.96 L535.99,798.16 L539.58,795.38 L543.16,792.64 L546.74,789.93 L550.32,787.24 L553.91,784.59 L557.49,781.96 L561.07,779.36 L564.65,776.79 L568.24,774.26 L571.82,771.75 L575.40,769.27 L578.98,766.82 L582.57,764.40 L586.15,762.01 L589.73,759.66 L593.31,757.33 L596.90,755.03 L600.48,752.76 L604.06,750.53 L607.64,748.32 L611.23,746.14 L614.81,744.00 L618.39,741.89 L621.97,739.80 L625.56,737.75 L629.14,735.73 L632.72,733.74 L636.30,731.78 L639.88,729.86 L643.47,727.96 L647.05,726.10 L650.63,724.27 L654.21,722.47 L657.80,720.70 L661.38,718.97 L664.96,717.26 L668.54,715.59 L672.13,713.95 L675.71,712.35 L679.29,710.77 L682.87,709.23 L686.46,707.72 L690.04,706.25 L693.62,704.81 L697.20,703.40 L700.79,702.02 L704.37,700.68 L707.95,699.37 L711.53,698.09 L715.12,696.84 L718.70,695.63 L722.28,694.46 L725.86,693.32 L729.45,692.21 L733.03,691.13 L736.61,690.09 L740.19,689.09 L743.77,688.11 L747.36,687.17 L750.94,686.27 L754.52,685.40 L758.10,684.57 L761.69,683.77 L765.27,683.00 L768.85,682.27 L772.43,681.58 L776.02,680.92 L779.60,680.29 L783.18,679.70 L786.76,679.15 L790.35,678.63 L793.93,678.14 L797.51,677.69 L801.09,677.28 L804.68,676.91 L808.26,676.56 L811.84,676.26 L815.42,675.99 L819.01,675.76 L822.59,675.56 L826.17,675.40 L829.75,675.28 L833.34,675.19 L836.92,675.14 L840.50,675.13" stroke="#276DA3" stroke-width="4.1" fill="none" stroke-linejoin="round" stroke-linecap="butt" clip-path="url(#c3)"/>
<path d="M612.00,823.00H654.00" stroke="#E47DB3" stroke-width="4.4" stroke-linecap="round"/>
<text x="674.10" y="835.30" font-size="38" text-anchor="start"  textLength="131.51" lengthAdjust="spacing">1072 nm</text>
<path d="M612.00,869.00H654.00" stroke="#338A63" stroke-width="4.4" stroke-linecap="round"/>
<text x="674.10" y="881.30" font-size="38" text-anchor="start"  textLength="140.83" lengthAdjust="spacing">526.5 nm</text>
<path d="M612.00,914.70H654.00" stroke="#276DA3" stroke-width="4.4" stroke-linecap="round"/>
<text x="674.10" y="927.00" font-size="38" text-anchor="start"  textLength="112.87" lengthAdjust="spacing">353 nm</text>
<path d="M1136.73,1106.20V1095.70 M1266.25,1106.20V1095.70 M1395.78,1106.20V1095.70 M1525.31,1106.20V1095.70 M1654.84,1106.20V1095.70 M1071.96,1106.20V1100.70 M1201.49,1106.20V1100.70 M1331.02,1106.20V1100.70 M1460.55,1106.20V1100.70 M1590.07,1106.20V1100.70 M1007.20,950.37H1017.70 M1007.20,794.53H1017.70 M1007.20,1028.28H1012.70 M1007.20,872.45H1012.70 M1007.20,716.62H1012.70" stroke="#000" stroke-width="2.4" fill="none"/>
<text x="1007.20" y="1154.70" font-size="48" text-anchor="middle">0</text>
<text x="1136.73" y="1154.70" font-size="48" text-anchor="middle">2</text>
<text x="1266.25" y="1154.70" font-size="48" text-anchor="middle">4</text>
<text x="1395.78" y="1154.70" font-size="48" text-anchor="middle">6</text>
<text x="1525.31" y="1154.70" font-size="48" text-anchor="middle">8</text>
<text x="1654.84" y="1154.70" font-size="48" text-anchor="middle">10</text>
<text x="995.60" y="1120.10" font-size="48" text-anchor="end">0.0</text>
<text x="995.60" y="964.27" font-size="48" text-anchor="end">0.6</text>
<text x="995.60" y="808.43" font-size="48" text-anchor="end">1.2</text>
<text x="995.60" y="652.60" font-size="48" text-anchor="end">1.8</text>
<rect x="1007.20" y="638.70" width="712.40" height="467.50" fill="none" stroke="#000" stroke-width="2.5"/>
<clipPath id="c4"><rect x="1007.20" y="638.70" width="712.40" height="467.50"/></clipPath>
<path d="M1007.20,741.73 L1010.78,741.66 L1014.36,741.66 L1017.94,741.73 L1021.52,741.88 L1025.10,742.09 L1028.68,742.37 L1032.26,742.72 L1035.84,743.14 L1039.42,743.62 L1043.00,744.16 L1046.58,744.77 L1050.16,745.44 L1053.74,746.16 L1057.32,746.95 L1060.90,747.80 L1064.48,748.70 L1068.06,749.65 L1071.64,750.67 L1075.22,751.73 L1078.80,752.85 L1082.38,754.02 L1085.96,755.24 L1089.54,756.50 L1093.12,757.82 L1096.70,759.18 L1100.28,760.59 L1103.86,762.04 L1107.44,763.53 L1111.02,765.07 L1114.60,766.64 L1118.18,768.26 L1121.76,769.91 L1125.34,771.61 L1128.92,773.33 L1132.50,775.10 L1136.08,776.90 L1139.66,778.73 L1143.24,780.59 L1146.82,782.48 L1150.40,784.40 L1153.98,786.35 L1157.56,788.33 L1161.14,790.33 L1164.72,792.36 L1168.30,794.41 L1171.88,796.48 L1175.46,798.58 L1179.04,800.69 L1182.62,802.82 L1186.19,804.98 L1189.77,807.15 L1193.35,809.33 L1196.93,811.54 L1200.51,813.75 L1204.09,815.99 L1207.67,818.23 L1211.25,820.49 L1214.83,822.77 L1218.41,825.05 L1221.99,827.34 L1225.57,829.65 L1229.15,831.97 L1232.73,834.29 L1236.31,836.62 L1239.89,838.96 L1243.47,841.31 L1247.05,843.66 L1250.63,846.02 L1254.21,848.39 L1257.79,850.75 L1261.37,853.12 L1264.95,855.50 L1268.53,857.87 L1272.11,860.25 L1275.69,862.62 L1279.27,865.00 L1282.85,867.38 L1286.43,869.75 L1290.01,872.12 L1293.59,874.49 L1297.17,876.85 L1300.75,879.21 L1304.33,881.56 L1307.91,883.91 L1311.49,886.25 L1315.07,888.59 L1318.65,890.91 L1322.23,893.23 L1325.81,895.54 L1329.39,897.83 L1332.97,900.12 L1336.55,902.39 L1340.13,904.66 L1343.71,906.90 L1347.29,909.14 L1350.87,911.36 L1354.45,913.56 L1358.03,915.75 L1361.61,917.92 L1365.19,920.08 L1368.77,922.22 L1372.35,924.33 L1375.93,926.43 L1379.51,928.51 L1383.09,930.57 L1386.67,932.60 L1390.25,934.62 L1393.83,936.61 L1397.41,938.58 L1400.99,940.54 L1404.57,942.47 L1408.15,944.38 L1411.73,946.26 L1415.31,948.13 L1418.89,949.98 L1422.47,951.81 L1426.05,953.61 L1429.63,955.39 L1433.21,957.16 L1436.79,958.90 L1440.37,960.62 L1443.95,962.32 L1447.53,964.00 L1451.11,965.66 L1454.69,967.30 L1458.27,968.91 L1461.85,970.51 L1465.43,972.08 L1469.01,973.64 L1472.59,975.17 L1476.17,976.68 L1479.75,978.18 L1483.33,979.65 L1486.91,981.10 L1490.49,982.53 L1494.07,983.93 L1497.65,985.32 L1501.23,986.69 L1504.81,988.03 L1508.39,989.36 L1511.97,990.66 L1515.55,991.95 L1519.13,993.21 L1522.71,994.45 L1526.29,995.67 L1529.87,996.87 L1533.45,998.05 L1537.03,999.21 L1540.61,1000.35 L1544.18,1001.47 L1547.76,1002.56 L1551.34,1003.64 L1554.92,1004.70 L1558.50,1005.73 L1562.08,1006.74 L1565.66,1007.74 L1569.24,1008.71 L1572.82,1009.66 L1576.40,1010.59 L1579.98,1011.50 L1583.56,1012.39 L1587.14,1013.26 L1590.72,1014.11 L1594.30,1014.94 L1597.88,1015.74 L1601.46,1016.53 L1605.04,1017.30 L1608.62,1018.04 L1612.20,1018.77 L1615.78,1019.47 L1619.36,1020.15 L1622.94,1020.82 L1626.52,1021.46 L1630.10,1022.08 L1633.68,1022.68 L1637.26,1023.26 L1640.84,1023.82 L1644.42,1024.36 L1648.00,1024.88 L1651.58,1025.38 L1655.16,1025.86 L1658.74,1026.32 L1662.32,1026.75 L1665.90,1027.17 L1669.48,1027.57 L1673.06,1027.94 L1676.64,1028.30 L1680.22,1028.63 L1683.80,1028.94 L1687.38,1029.24 L1690.96,1029.51 L1694.54,1029.76 L1698.12,1029.99 L1701.70,1030.21 L1705.28,1030.40 L1708.86,1030.57 L1712.44,1030.72 L1716.02,1030.85 L1719.60,1030.96" stroke="#338A63" stroke-width="4.1" fill="none" stroke-linejoin="round" stroke-linecap="butt" clip-path="url(#c4)"/>
<path d="M1007.20,923.46 L1010.78,923.51 L1014.36,923.60 L1017.94,923.72 L1021.52,923.86 L1025.10,924.04 L1028.68,924.24 L1032.26,924.47 L1035.84,924.73 L1039.42,925.01 L1043.00,925.32 L1046.58,925.66 L1050.16,926.02 L1053.74,926.41 L1057.32,926.83 L1060.90,927.26 L1064.48,927.73 L1068.06,928.21 L1071.64,928.72 L1075.22,929.26 L1078.80,929.81 L1082.38,930.39 L1085.96,930.99 L1089.54,931.61 L1093.12,932.25 L1096.70,932.92 L1100.28,933.60 L1103.86,934.30 L1107.44,935.03 L1111.02,935.77 L1114.60,936.53 L1118.18,937.31 L1121.76,938.11 L1125.34,938.92 L1128.92,939.75 L1132.50,940.60 L1136.08,941.46 L1139.66,942.35 L1143.24,943.24 L1146.82,944.15 L1150.40,945.08 L1153.98,946.02 L1157.56,946.98 L1161.14,947.94 L1164.72,948.93 L1168.30,949.92 L1171.88,950.93 L1175.46,951.94 L1179.04,952.98 L1182.62,954.02 L1186.19,955.07 L1189.77,956.13 L1193.35,957.20 L1196.93,958.29 L1200.51,959.38 L1204.09,960.48 L1207.67,961.59 L1211.25,962.71 L1214.83,963.83 L1218.41,964.96 L1221.99,966.10 L1225.57,967.25 L1229.15,968.40 L1232.73,969.56 L1236.31,970.72 L1239.89,971.89 L1243.47,973.06 L1247.05,974.24 L1250.63,975.42 L1254.21,976.60 L1257.79,977.78 L1261.37,978.97 L1264.95,980.16 L1268.53,981.36 L1272.11,982.55 L1275.69,983.75 L1279.27,984.94 L1282.85,986.14 L1286.43,987.33 L1290.01,988.53 L1293.59,989.72 L1297.17,990.91 L1300.75,992.11 L1304.33,993.29 L1307.91,994.48 L1311.49,995.66 L1315.07,996.84 L1318.65,998.02 L1322.23,999.19 L1325.81,1000.36 L1329.39,1001.52 L1332.97,1002.68 L1336.55,1003.83 L1340.13,1004.97 L1343.71,1006.11 L1347.29,1007.24 L1350.87,1008.37 L1354.45,1009.48 L1358.03,1010.59 L1361.61,1011.69 L1365.19,1012.78 L1368.77,1013.87 L1372.35,1014.94 L1375.93,1016.00 L1379.51,1017.05 L1383.09,1018.09 L1386.67,1019.12 L1390.25,1020.14 L1393.83,1021.15 L1397.41,1022.15 L1400.99,1023.13 L1404.57,1024.11 L1408.15,1025.07 L1411.73,1026.03 L1415.31,1026.97 L1418.89,1027.90 L1422.47,1028.82 L1426.05,1029.73 L1429.63,1030.63 L1433.21,1031.52 L1436.79,1032.40 L1440.37,1033.27 L1443.95,1034.12 L1447.53,1034.97 L1451.11,1035.80 L1454.69,1036.63 L1458.27,1037.44 L1461.85,1038.24 L1465.43,1039.04 L1469.01,1039.82 L1472.59,1040.59 L1476.17,1041.35 L1479.75,1042.10 L1483.33,1042.84 L1486.91,1043.56 L1490.49,1044.28 L1494.07,1044.99 L1497.65,1045.68 L1501.23,1046.37 L1504.81,1047.04 L1508.39,1047.70 L1511.97,1048.35 L1515.55,1049.00 L1519.13,1049.63 L1522.71,1050.25 L1526.29,1050.86 L1529.87,1051.46 L1533.45,1052.05 L1537.03,1052.62 L1540.61,1053.19 L1544.18,1053.75 L1547.76,1054.29 L1551.34,1054.83 L1554.92,1055.35 L1558.50,1055.87 L1562.08,1056.37 L1565.66,1056.86 L1569.24,1057.34 L1572.82,1057.82 L1576.40,1058.28 L1579.98,1058.73 L1583.56,1059.17 L1587.14,1059.60 L1590.72,1060.01 L1594.30,1060.42 L1597.88,1060.82 L1601.46,1061.21 L1605.04,1061.58 L1608.62,1061.95 L1612.20,1062.30 L1615.78,1062.65 L1619.36,1062.98 L1622.94,1063.31 L1626.52,1063.62 L1630.10,1063.92 L1633.68,1064.21 L1637.26,1064.49 L1640.84,1064.76 L1644.42,1065.02 L1648.00,1065.27 L1651.58,1065.51 L1655.16,1065.74 L1658.74,1065.96 L1662.32,1066.17 L1665.90,1066.37 L1669.48,1066.55 L1673.06,1066.73 L1676.64,1066.90 L1680.22,1067.05 L1683.80,1067.20 L1687.38,1067.33 L1690.96,1067.46 L1694.54,1067.57 L1698.12,1067.67 L1701.70,1067.77 L1705.28,1067.85 L1708.86,1067.92 L1712.44,1067.98 L1716.02,1068.03 L1719.60,1068.07" stroke="#A35AA6" stroke-width="4.1" fill="none" stroke-linejoin="round" stroke-linecap="butt" clip-path="url(#c4)"/>
<path d="M1007.20,1106.20 L1010.78,1106.12 L1014.36,1105.94 L1017.94,1105.69 L1021.52,1105.35 L1025.10,1104.93 L1028.68,1104.43 L1032.26,1103.85 L1035.84,1103.19 L1039.42,1102.44 L1043.00,1101.62 L1046.58,1100.73 L1050.16,1099.75 L1053.74,1098.70 L1057.32,1097.57 L1060.90,1096.37 L1064.48,1095.09 L1068.06,1093.74 L1071.64,1092.32 L1075.22,1090.82 L1078.80,1089.25 L1082.38,1087.62 L1085.96,1085.91 L1089.54,1084.13 L1093.12,1082.29 L1096.70,1080.38 L1100.28,1078.40 L1103.86,1076.35 L1107.44,1074.24 L1111.02,1072.07 L1114.60,1069.83 L1118.18,1067.53 L1121.76,1065.16 L1125.34,1062.73 L1128.92,1060.25 L1132.50,1057.70 L1136.08,1055.09 L1139.66,1052.42 L1143.24,1049.70 L1146.82,1046.92 L1150.40,1044.09 L1153.98,1041.20 L1157.56,1038.27 L1161.14,1035.28 L1164.72,1032.24 L1168.30,1029.15 L1171.88,1026.02 L1175.46,1022.84 L1179.04,1019.62 L1182.62,1016.35 L1186.19,1013.04 L1189.77,1009.69 L1193.35,1006.31 L1196.93,1002.90 L1200.51,999.46 L1204.09,995.99 L1207.67,992.51 L1211.25,989.00 L1214.83,985.48 L1218.41,981.95 L1221.99,978.40 L1225.57,974.85 L1229.15,971.30 L1232.73,967.75 L1236.31,964.20 L1239.89,960.64 L1243.47,957.09 L1247.05,953.55 L1250.63,950.00 L1254.21,946.45 L1257.79,942.90 L1261.37,939.36 L1264.95,935.82 L1268.53,932.27 L1272.11,928.73 L1275.69,925.20 L1279.27,921.66 L1282.85,918.12 L1286.43,914.59 L1290.01,911.06 L1293.59,907.54 L1297.17,904.03 L1300.75,900.52 L1304.33,897.02 L1307.91,893.54 L1311.49,890.06 L1315.07,886.60 L1318.65,883.15 L1322.23,879.72 L1325.81,876.31 L1329.39,872.91 L1332.97,869.54 L1336.55,866.18 L1340.13,862.85 L1343.71,859.54 L1347.29,856.24 L1350.87,852.98 L1354.45,849.73 L1358.03,846.50 L1361.61,843.30 L1365.19,840.13 L1368.77,836.97 L1372.35,833.84 L1375.93,830.74 L1379.51,827.66 L1383.09,824.61 L1386.67,821.59 L1390.25,818.59 L1393.83,815.62 L1397.41,812.67 L1400.99,809.76 L1404.57,806.87 L1408.15,804.01 L1411.73,801.18 L1415.31,798.38 L1418.89,795.61 L1422.47,792.86 L1426.05,790.15 L1429.63,787.46 L1433.21,784.81 L1436.79,782.18 L1440.37,779.58 L1443.95,777.01 L1447.53,774.47 L1451.11,771.96 L1454.69,769.49 L1458.27,767.04 L1461.85,764.62 L1465.43,762.23 L1469.01,759.87 L1472.59,757.54 L1476.17,755.24 L1479.75,752.97 L1483.33,750.73 L1486.91,748.52 L1490.49,746.35 L1494.07,744.20 L1497.65,742.09 L1501.23,740.00 L1504.81,737.95 L1508.39,735.93 L1511.97,733.94 L1515.55,731.98 L1519.13,730.05 L1522.71,728.15 L1526.29,726.29 L1529.87,724.45 L1533.45,722.65 L1537.03,720.88 L1540.61,719.15 L1544.18,717.44 L1547.76,715.77 L1551.34,714.13 L1554.92,712.52 L1558.50,710.94 L1562.08,709.40 L1565.66,707.89 L1569.24,706.41 L1572.82,704.96 L1576.40,703.55 L1579.98,702.17 L1583.56,700.83 L1587.14,699.51 L1590.72,698.23 L1594.30,696.99 L1597.88,695.77 L1601.46,694.59 L1605.04,693.45 L1608.62,692.34 L1612.20,691.26 L1615.78,690.21 L1619.36,689.20 L1622.94,688.23 L1626.52,687.29 L1630.10,686.38 L1633.68,685.51 L1637.26,684.67 L1640.84,683.86 L1644.42,683.10 L1648.00,682.36 L1651.58,681.66 L1655.16,681.00 L1658.74,680.37 L1662.32,679.77 L1665.90,679.21 L1669.48,678.69 L1673.06,678.20 L1676.64,677.75 L1680.22,677.33 L1683.80,676.95 L1687.38,676.61 L1690.96,676.30 L1694.54,676.03 L1698.12,675.79 L1701.70,675.59 L1705.28,675.42 L1708.86,675.29 L1712.44,675.20 L1716.02,675.15 L1719.60,675.13" stroke="#7A4498" stroke-width="4.1" fill="none" stroke-linejoin="round" stroke-linecap="butt" clip-path="url(#c4)"/>
<path d="M1491.20,823.00H1532.80" stroke="#A35AA6" stroke-width="4.4" stroke-linecap="round"/>
<text x="1553.00" y="835.30" font-size="38" text-anchor="start"  textLength="131.51" lengthAdjust="spacing">1035 nm</text>
<path d="M1491.20,869.00H1532.80" stroke="#338A63" stroke-width="4.4" stroke-linecap="round"/>
<text x="1553.00" y="881.30" font-size="38" text-anchor="start"  textLength="140.83" lengthAdjust="spacing">526.5 nm</text>
<path d="M1491.20,914.70H1532.80" stroke="#7A4498" stroke-width="4.4" stroke-linecap="round"/>
<text x="1553.00" y="927.00" font-size="38" text-anchor="start"  textLength="112.87" lengthAdjust="spacing">349 nm</text>
<text x="-3.00" y="33.10" font-size="48" text-anchor="start">(a)</text>
<text x="872.50" y="33.10" font-size="48" text-anchor="start">(b)</text>
<text x="-2.50" y="648.50" font-size="48" text-anchor="start">(c)</text>
<text x="872.50" y="648.50" font-size="48" text-anchor="start">(d)</text>
<text x="484.00" y="585.20" font-size="48" text-anchor="middle"  textLength="379.80" lengthAdjust="spacing">Crystal length (mm)</text>
<text x="484.00" y="1204.40" font-size="48" text-anchor="middle"  textLength="379.80" lengthAdjust="spacing">Crystal length (mm)</text>
<text x="1363.40" y="585.20" font-size="48" text-anchor="middle"  textLength="379.80" lengthAdjust="spacing">Crystal length (mm)</text>
<text x="1363.40" y="1204.40" font-size="48" text-anchor="middle"  textLength="379.80" lengthAdjust="spacing">Crystal length (mm)</text>
<text transform="translate(37.70,242.10) rotate(-90)" font-size="48" text-anchor="middle">Energy (kJ)</text>
<text transform="translate(916.60,236.60) rotate(-90)" font-size="48" text-anchor="middle">Pump energy (kJ)</text>
<text transform="translate(37.70,860.60) rotate(-90)" font-size="48" text-anchor="middle">Energy (kJ)</text>
<text transform="translate(917.00,860.60) rotate(-90)" font-size="48" text-anchor="middle">Energy (kJ)</text>
<text transform="translate(1840.00,252.70) rotate(-90)" font-size="48" text-anchor="middle" textLength="425.04" lengthAdjust="spacing">Amplified energy (kJ)</text>
</svg>
</body></html>
